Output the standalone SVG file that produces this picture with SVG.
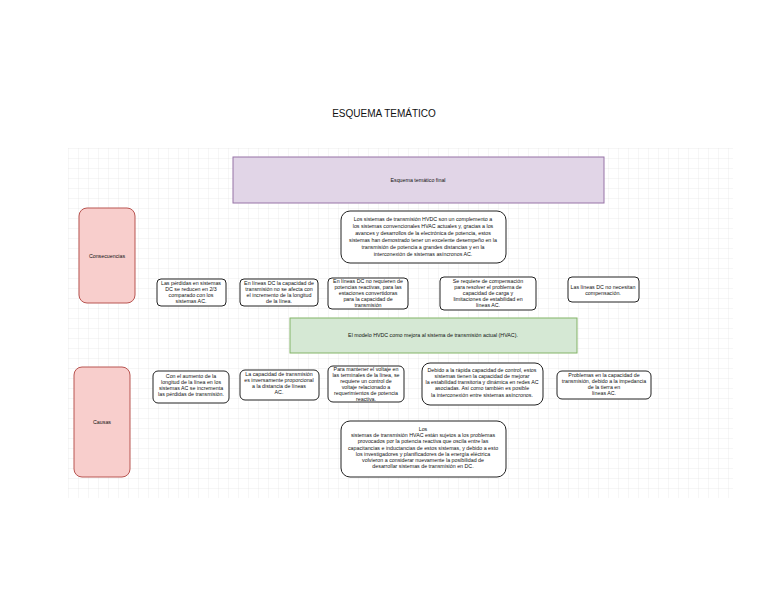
<svg xmlns="http://www.w3.org/2000/svg" width="768" height="594" viewBox="0 0 768 594">
<defs>
<pattern id="g" width="10" height="10" patternUnits="userSpaceOnUse" x="68" y="148"><path d="M10 0H0V10" fill="none" stroke="#dcdcdc" stroke-width="0.5"/></pattern>
<style>
text{font-family:"Liberation Sans",Arial,sans-serif;font-size:5.3px;fill:#111;text-anchor:middle}
.b{fill:#fff;stroke:#222;stroke-width:1}
.r{fill:#f8cecc;stroke:#b85450;stroke-width:1}
</style>
</defs>
<rect width="768" height="594" fill="#fff"/>
<rect x="68" y="148" width="665" height="350" fill="url(#g)"/>
<text x="384" y="117" style="font-size:10px">ESQUEMA TEMÁTICO</text>
<g id="connectors"></g>
<g id="titulo"><rect x="233" y="157" width="371" height="46" fill="#e1d5e7" stroke="#9673a6"/><text x="418" y="182">Esquema temático final</text></g>
<g id="consecuencias"><rect class="r" x="79" y="208" width="56" height="95" rx="8"/><text x="107" y="258">Consecuencias</text></g>
<g id="causas"><rect class="r" x="74" y="367" width="56" height="110" rx="8"/><text x="102" y="424">Causas</text></g>
<g id="hvdc"><rect class="b" x="341" y="211" width="165" height="52" rx="9"/>
<text x="423" y="221">Los sistemas de transmisión HVDC son un complemento a</text>
<text x="423" y="228">los sistemas convencionales HVAC actuales y, gracias a los</text>
<text x="423" y="235">avances y desarrollos de la electrónica de potencia, estos</text>
<text x="423" y="242">sistemas han demostrado tener un excelente desempeño en la</text>
<text x="423" y="249">transmisión de potencia a grandes distancias y en la</text>
<text x="423" y="256">interconexión de sistemas asíncronos AC.</text></g>
<g id="c1"><rect class="b" x="157" y="279" width="69" height="27" rx="4"/>
<text x="191" y="285">Las pérdidas en sistemas</text><text x="191" y="291">DC se reducen en 2/3</text><text x="191" y="297">comparado con los</text><text x="191" y="303">sistemas AC.</text></g>
<g id="c2"><rect class="b" x="240" y="279" width="78" height="27" rx="4"/>
<text x="279" y="285">En líneas DC la capacidad de</text><text x="279" y="291">transmisión no se afecta con</text><text x="279" y="297">el incremento de la longitud</text><text x="279" y="303">de la línea.</text></g>
<g id="c3"><rect class="b" x="328" y="278" width="80" height="31" rx="4"/>
<text x="368" y="283">En líneas DC no requieren de</text><text x="368" y="289">potencias reactivas, para las</text><text x="368" y="295">estaciones convertidoras</text><text x="368" y="301">para la capacidad de</text><text x="368" y="307">transmisión</text></g>
<g id="c4"><rect class="b" x="440" y="277" width="96" height="33" rx="4"/>
<text x="488" y="283">Se requiere de compensación</text><text x="488" y="289">para resolver el problema de</text><text x="488" y="295">capacidad de carga y</text><text x="488" y="301">limitaciones de estabilidad en</text><text x="488" y="307">líneas AC.</text></g>
<g id="c5"><rect class="b" x="568" y="277" width="71" height="25" rx="4"/>
<text x="603" y="289">Las líneas DC no necesitan</text><text x="603" y="295">compensación.</text></g>
<g id="modelo"><rect x="290" y="318" width="287" height="35" fill="#d5e8d4" stroke="#82b366"/><text x="433" y="337">El modelo HVDC como mejora al sistema de transmisión actual (HVAC).</text></g>
<g id="k1"><rect class="b" x="153" y="371" width="76" height="32" rx="5"/>
<text x="191" y="378">Con el aumento de la</text><text x="191" y="384">longitud de la línea en los</text><text x="191" y="390">sistemas AC se incrementa</text><text x="191" y="396">las pérdidas de transmisión.</text></g>
<g id="k2"><rect class="b" x="240" y="370" width="79" height="30" rx="5"/>
<text x="279" y="376">La capacidad de transmisión</text><text x="279" y="382">es inversamente proporcional</text><text x="279" y="388">a la distancia de líneas</text><text x="279" y="394">AC.</text></g>
<g id="k3"><rect class="b" x="328" y="366" width="76" height="36" rx="5"/>
<text x="366" y="371">Para mantener el voltaje en</text><text x="366" y="377">las terminales de la línea, se</text><text x="366" y="383">requiere un control de</text><text x="366" y="389">voltaje relacionado a</text><text x="366" y="395">requerimientos de potencia</text><text x="366" y="401">reactiva.</text></g>
<g id="k4"><rect class="b" x="422" y="363" width="121" height="42" rx="8"/>
<text x="482" y="372">Debido a la rápida capacidad de control, estos</text><text x="482" y="378">sistemas tienen la capacidad de mejorar</text><text x="482" y="384">la estabilidad transitoria y dinámica en redes AC</text><text x="482" y="390">asociadas. Así como también es posible</text><text x="482" y="397">la interconexión entre sistemas asíncronos.</text></g>
<g id="k5"><rect class="b" x="557" y="371" width="94" height="28" rx="5"/>
<text x="604" y="377">Problemas en la capacidad de</text><text x="604" y="383">transmisión, debido a la impedancia</text><text x="604" y="389">de la tierra en</text><text x="604" y="395">líneas AC.</text></g>
<g id="hvac"><rect class="b" x="341" y="421" width="165" height="56" rx="9"/>
<text x="423" y="431">Los</text><text x="423" y="437">sistemas de transmisión HVAC están sujetos a los problemas</text><text x="423" y="443">provocados por la potencia reactiva que oscila entre las</text><text x="423" y="450">capacitancias e inductancias de estos sistemas, y debido a esto</text><text x="423" y="456">los investigadores y planificadores de la energía eléctrica</text><text x="423" y="462">volvieron a considerar nuevamente la posibilidad de</text><text x="423" y="468">desarrollar sistemas de transmisión en DC.</text></g>
</svg>
